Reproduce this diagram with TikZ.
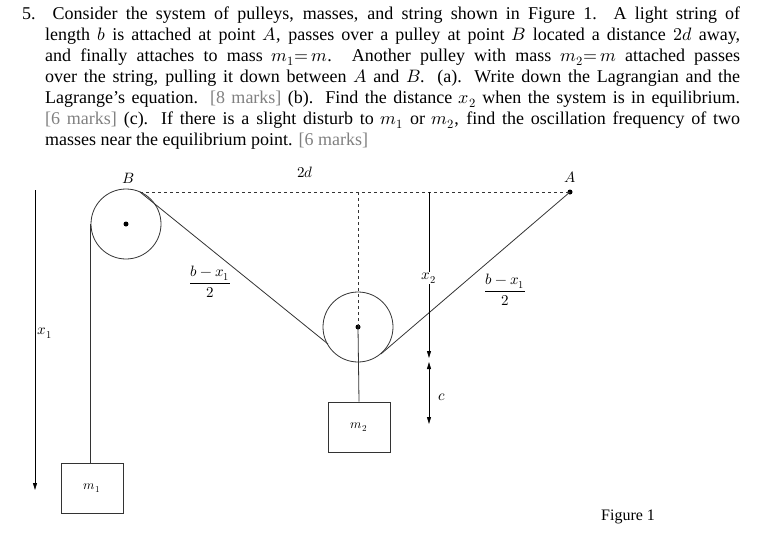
\documentclass[tikz,border=0pt]{standalone}
\usepackage{fontspec}
\usepackage{unicode-math}
\setmainfont{Liberation Serif}
\setmathfont{Latin Modern Math}
\usetikzlibrary{calc,arrows.meta}
\begin{document}
\begin{tikzpicture}[x=1pt,y=-1pt,
  ln/.style={anchor=west,inner sep=0pt,font=\fontsize{18}{19}\selectfont},
  lbl/.style={font=\fontsize{15}{16}\selectfont\itshape,inner sep=1pt},
  str/.style={line width=0.8pt,black!80},
  dsh/.style={dashed,line width=0.8pt,black!80},
  box/.style={draw=black!80,line width=0.8pt,minimum width=62pt,minimum height=50pt,inner sep=0pt,font=\fontsize{13}{14}\selectfont},
  pul/.style={circle,draw=black!80,line width=0.8pt,minimum size=70pt,inner sep=0pt},
  arr/.style={line width=0.8pt,-{Triangle[length=7pt,width=4pt]}}]
\useasboundingbox (0,0) rectangle (774,536);
\def\gm#1{\textcolor{black!50}{#1}}
\node[ln] (t1) at (22,15) {\hbox to 718pt{5. Consider the system of pulleys, masses, and string shown in Figure 1. A light string of}};
\node[ln] (t2) at (45,36) {\hbox to 695pt{length $b$ is attached at point $A$, passes over a pulley at point $B$ located a distance $2d$ away,}};
\node[ln] (t3) at (45,57) {\hbox to 695pt{and finally attaches to mass $m_1{=}\,m$. Another pulley with mass $m_2{=}\,m$ attached passes}};
\node[ln] (t4) at (45,78) {\hbox to 695pt{over the string, pulling it down between $A$ and $B$. (a). Write down the Lagrangian and the}};
\node[ln] (t5) at (45,99) {\hbox to 695pt{Lagrange's equation. \gm{[8 marks]} (b). Find the distance $x_2$ when the system is in equilibrium.}};
\node[ln] (t6) at (45,120) {\hbox to 695pt{\gm{[6 marks]} (c). If there is a slight disturb to $m_1$ or $m_2$, find the oscillation frequency of two}};
\node[ln] (t7) at (45,141) {masses near the equilibrium point. \gm{[6 marks]}};
% pulleys
\node[pul] (pB) at (126,224) {};
\fill (pB.center) circle (2.5pt);
\node[pul] (pC) at (358,327) {};
\fill (pC.center) circle (2.5pt);
\coordinate (A) at (570,192);
\fill (A) circle (2.5pt);
\node[lbl] (lA) at (570,177) {$A$};
\node[lbl] (lB) at (128,178) {$B$};
\node[lbl] (l2d) at (305,172) {$2d$};
\coordinate (Btop) at (140,192);
\draw[dsh] (Btop) -- (A);
\coordinate (dtop) at (358,192);
\draw[dsh] (dtop) -- (pC.center);
% masses
\node[box] (m1) at (92,488) {$m_1$};
\node[box] (m2) at (359,427) {$m_2$};
\draw[str] (pB.west) -- (pB.west |- m1.north);
\draw[str] (pC.center) -- (m2.north);
\coordinate (cT) at (328,344);
\draw[str] (Btop) -- (cT);
\draw[str] (A) -- (tangent cs:node=pC,point={(A)},solution=2);
% x1
\coordinate (x1a) at (35,190);
\coordinate (x1b) at (35,490);
\draw[arr] (x1a) -- (x1b);
\node[lbl] (lx1) at (45,333) {$x_1$};
% x2 and c
\coordinate (x2a) at (429,192);
\node[lbl] (lx2) at (429,278) {$x_2$};
\coordinate (x2b) at (429,358);
\draw[line width=0.8pt] (x2a) -- (lx2.north);
\draw[arr] (lx2.south) -- (x2b);
\coordinate (ca) at (429,362);
\coordinate (cb) at (429,424);
\draw[arr] (429,400) -- (ca);
\draw[arr] (429,390) -- (cb);
\node[lbl] (lc) at (442,397) {$c$};
\node[lbl] (f1) at (210,282) {$\dfrac{b-x_1}{2}$};
\node[lbl] (f2) at (505,290) {$\dfrac{b-x_1}{2}$};
\node[ln,font=\fontsize{16}{18}\selectfont] (fig) at (601,517) {Figure 1};
\end{tikzpicture}
\end{document}
